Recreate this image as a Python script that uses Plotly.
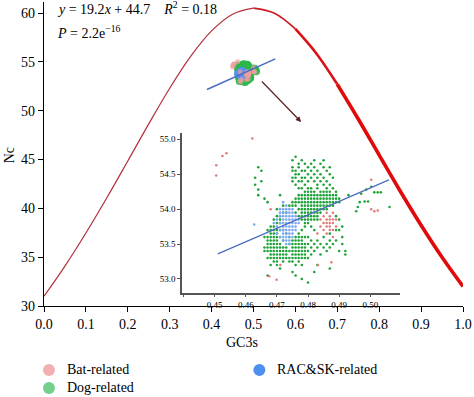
import plotly.graph_objects as go

# ---------------- data ----------------
x_ticks = [0.0, 0.1, 0.2, 0.3, 0.4, 0.5, 0.6, 0.7, 0.8, 0.9, 1.0]
y_ticks = [30, 35, 40, 45, 50, 55, 60]
inset_x_ticks = [0.44, 0.45, 0.46, 0.47, 0.48, 0.49, 0.50, 0.51]
inset_x_text = [" ", "0.45", "0.46", "0.47", "0.48", "0.49", "0.50", " "]
inset_y_ticks = [53.0, 53.5, 54.0, 54.5, 55.0]

# expected Nc curve
curve_s = [0.00, 0.05, 0.10, 0.15, 0.20, 0.25, 0.30, 0.35, 0.40, 0.45, 0.50,
           0.55, 0.60, 0.65, 0.70, 0.75, 0.80, 0.85, 0.90, 0.95, 1.00]
curve_nc = [31.0, 34.09, 37.47, 41.08, 44.85, 48.65, 52.3, 55.56, 58.17, 59.88, 60.5,
            59.98, 58.37, 55.86, 52.7, 49.15, 45.45, 41.78, 38.27, 34.99, 32.0]

# Dog-related genes (columns of GC3s with their Nc values)
dog_col_x = [0.463, 0.464, 0.465, 0.466, 0.467, 0.468, 0.469, 0.470, 0.471, 0.472,
             0.473, 0.474, 0.475, 0.476, 0.477, 0.478, 0.479, 0.480, 0.481, 0.482,
             0.483, 0.484, 0.485, 0.486, 0.487, 0.488, 0.489, 0.490, 0.491, 0.492]
dog_col_y = [
    [54.45, 54.35],
    [54.60, 54.28, 54.20],
    [54.55, 54.40],
    [54.15, 53.60, 53.45, 53.40],
    [54.10, 53.70, 53.60, 53.55, 53.50, 53.45, 53.40, 53.30, 53.05],
    [53.75, 53.70, 53.65, 53.60, 53.55, 53.50, 53.45, 53.40, 53.35, 53.30, 53.20],
    [53.85, 53.75, 53.70, 53.65, 53.60, 53.55, 53.50, 53.45, 53.40, 53.35, 53.30, 53.25],
    [54.00, 53.90, 53.80, 53.70, 53.65, 53.60, 53.55, 53.50, 53.45, 53.40, 53.35, 53.30, 53.25, 53.20],
    [54.20, 53.90, 53.85, 53.80, 53.70, 53.60, 53.50, 53.45, 53.40, 53.35, 53.30, 53.15],
    [54.05, 53.95, 53.70, 53.55, 53.45, 53.40, 53.35, 53.30, 53.25],
    [53.95, 53.65, 53.45, 53.40, 53.35, 53.30],
    [54.05, 53.60, 53.50, 53.40, 53.30, 53.25],
    [54.70, 54.60, 54.55, 54.45, 54.40, 54.10, 54.05, 53.55, 53.50, 53.45, 53.40, 53.35, 53.30, 53.25, 53.10],
    [54.75, 54.55, 54.50, 54.45, 54.35, 54.15, 54.10, 54.05, 53.95, 53.60, 53.55, 53.50, 53.45, 53.40, 53.35, 53.30, 53.20, 53.05],
    [54.65, 54.60, 54.50, 54.40, 54.30, 54.20, 54.15, 54.10, 54.00, 53.90, 53.65, 53.60, 53.55, 53.50, 53.45, 53.40, 53.35, 53.30, 53.25],
    [54.70, 54.55, 54.45, 54.40, 54.30, 54.20, 54.15, 54.10, 54.05, 54.00, 53.95, 53.90, 53.85, 53.70, 53.60, 53.55, 53.50, 53.45, 53.40, 53.35, 53.30, 53.20, 53.00],
    [54.65, 54.55, 54.45, 54.35, 54.25, 54.20, 54.15, 54.10, 54.05, 54.00, 53.95, 53.90, 53.85, 53.80, 53.75, 53.60, 53.50, 53.45, 53.40, 53.35, 53.30],
    [54.60, 54.50, 54.40, 54.30, 54.25, 54.20, 54.15, 54.10, 54.05, 54.00, 53.95, 53.90, 53.85, 53.80, 53.60, 53.50, 53.40, 53.30, 52.95],
    [54.65, 54.55, 54.45, 54.30, 54.25, 54.20, 54.15, 54.10, 54.05, 54.00, 53.95, 53.90, 53.85, 53.75, 53.55, 53.45, 53.35],
    [54.70, 54.60, 54.50, 54.40, 54.25, 54.20, 54.15, 54.10, 54.05, 54.00, 53.95, 53.90, 53.85, 53.70, 53.50, 53.40, 53.10],
    [54.55, 54.45, 54.35, 54.30, 54.20, 54.15, 54.10, 54.05, 54.00, 53.95, 53.90, 53.85, 53.55, 53.45, 53.20],
    [54.65, 54.50, 54.40, 54.25, 54.20, 54.15, 54.10, 54.05, 54.00, 53.95, 53.50, 53.35],
    [54.70, 54.60, 54.45, 54.35, 54.25, 54.20, 54.15, 54.10, 54.05, 54.00, 53.60, 53.45],
    [54.55, 54.40, 54.30, 54.25, 54.20, 54.15, 54.10, 54.05, 54.00, 53.50, 53.40],
    [54.60, 54.50, 54.35, 54.25, 54.20, 54.15, 54.10, 54.05, 53.65, 53.55, 53.45, 53.15],
    [54.45, 54.30, 54.20, 54.15, 54.10, 54.05, 53.50],
    [54.25, 54.20, 54.15, 54.10, 53.90, 53.70, 53.55],
    [54.15, 54.10, 53.85, 53.70, 53.40],
    [53.75, 53.60, 53.50],
    [53.40, 53.35],
]
dog_extra_x = [0.4960, 0.4966, 0.4971, 0.4982, 0.4987, 0.4993, 0.5003, 0.5013,
               0.5024, 0.5034, 0.5062, 0.4955, 0.4930]
dog_extra_y = [54.03, 54.10, 54.22, 54.11, 54.28, 54.11, 54.32, 54.24,
               54.24, 54.24, 54.03, 53.97, 54.20]

# RAC&SK-related genes
rac_col_x = [0.4627, 0.469, 0.470, 0.471, 0.472, 0.473, 0.474, 0.475, 0.476, 0.477]
rac_col_y = [
    [53.78],
    [53.80],
    [53.85, 53.75, 53.65],
    [54.00, 53.95, 53.90, 53.80, 53.70, 53.60],
    [54.10, 54.00, 53.95, 53.90, 53.85, 53.80, 53.75, 53.70, 53.65, 53.60, 53.55],
    [54.05, 54.00, 53.95, 53.90, 53.85, 53.80, 53.75, 53.70, 53.65, 53.60, 53.55, 53.50],
    [54.00, 53.95, 53.90, 53.85, 53.80, 53.75, 53.70, 53.65, 53.60, 53.55, 53.50],
    [54.00, 53.95, 53.90, 53.85, 53.80, 53.75, 53.70, 53.65, 53.60],
    [53.90, 53.85, 53.80, 53.75, 53.70],
    [53.85, 53.80],
]

# Bat-related genes
bat_col_x = [0.483, 0.484, 0.485, 0.486, 0.487, 0.488, 0.489]
bat_col_y = [
    [53.65],
    [53.85, 53.75],
    [53.90, 53.80, 53.70],
    [53.95, 53.85, 53.80, 53.75, 53.65],
    [53.90, 53.85, 53.80, 53.75, 53.70],
    [53.95, 53.85, 53.80, 53.70, 53.60],
    [53.85, 53.75],
]
bat_extra_x = [0.4505, 0.4505, 0.4525, 0.4538, 0.4621, 0.4680, 0.4711, 0.4675,
               0.4699, 0.4832, 0.4875, 0.5003, 0.5003, 0.5013, 0.5024]
bat_extra_y = [54.63, 54.48, 54.76, 54.80, 55.01, 54.00, 53.20, 53.04,
               52.99, 53.20, 53.24, 54.42, 54.00, 53.97, 53.98]

# regression line y = 19.2x + 44.7 (end points)
reg_main_x = [0.389, 0.552]
reg_main_y = [52.17, 55.30]
reg_inset_x = [0.451, 0.506]
reg_inset_y = [53.36, 54.42]


def expand(cx, cy):
    xs, ys = [], []
    for x, col in zip(cx, cy):
        for y in col:
            xs.append(x)
            ys.append(y)
    return xs, ys


dog_x, dog_y = expand(dog_col_x, dog_col_y)
dog_x += dog_extra_x
dog_y += dog_extra_y
rac_x, rac_y = expand(rac_col_x, rac_col_y)
bat_x, bat_y = expand(bat_col_x, bat_col_y)
bat_x += bat_extra_x
bat_y += bat_extra_y

FONT = "Liberation Serif, Times New Roman, serif"
fig = go.Figure()

# expected curve, drawn in pieces of growing width
pieces = [(0, 10, 1.2, "#b3303a"), (10, 12, 1.7, "#cc1c26"),
          (12, 14, 2.6, "#dc1016"), (14, 20, 3.6, "#e00a0a")]
for a, b, w, c in pieces:
    fig.add_trace(go.Scatter(x=curve_s[a:b + 1], y=curve_nc[a:b + 1], mode="lines",
                             line=dict(color=c, width=w, shape="spline"),
                             showlegend=False, hoverinfo="skip"))

# main panel cluster
fig.add_trace(go.Scatter(x=dog_x, y=dog_y, mode="markers", showlegend=False,
                         marker=dict(size=8, color="#2db84b", opacity=0.9)))
fig.add_trace(go.Scatter(x=rac_x, y=rac_y, mode="markers", showlegend=False,
                         marker=dict(size=8, color="#5b8ff0", opacity=0.9)))
fig.add_trace(go.Scatter(x=bat_x, y=bat_y, mode="markers", showlegend=False,
                         marker=dict(size=5, color="#e9a0a0", opacity=0.7)))
fig.add_trace(go.Scatter(x=reg_main_x, y=reg_main_y, mode="lines", showlegend=False,
                         line=dict(color="#4a6cc0", width=1.5)))

# inset panel
fig.add_trace(go.Scatter(x=dog_x, y=dog_y, mode="markers", showlegend=False,
                         xaxis="x2", yaxis="y2",
                         marker=dict(size=2.6, color="#1fa33a")))
fig.add_trace(go.Scatter(x=rac_x, y=rac_y, mode="markers", showlegend=False,
                         xaxis="x2", yaxis="y2",
                         marker=dict(size=2.6, color="#7aa8f2")))
fig.add_trace(go.Scatter(x=bat_x, y=bat_y, mode="markers", showlegend=False,
                         xaxis="x2", yaxis="y2",
                         marker=dict(size=2.5, color="#e07a7a")))
fig.add_trace(go.Scatter(x=reg_inset_x, y=reg_inset_y, mode="lines", showlegend=False,
                         xaxis="x2", yaxis="y2",
                         line=dict(color="#4a6cc0", width=1.3)))

axis_common = dict(showgrid=False, zeroline=False, showline=True, ticks="outside")

fig.update_layout(
    width=474, height=397,
    margin=dict(l=44, r=8, t=2, b=91),
    paper_bgcolor="white", plot_bgcolor="rgba(0,0,0,0)",
    font=dict(family=FONT, size=14, color="black"),
    xaxis=dict(**axis_common, range=[0, 1], tickvals=x_ticks, tickformat=".1f",
               linecolor="black", linewidth=1.3, ticklen=5, tickcolor="black",
               ticklabeloverflow="allow",
               tickfont=dict(family=FONT, size=14)),
    yaxis=dict(**axis_common, range=[30, 61.13], tickvals=y_ticks,
               linecolor="black", linewidth=1.3, ticklen=5, tickcolor="black",
               tickfont=dict(family=FONT, size=14)),
    xaxis2=dict(**axis_common, domain=[0.3294, 0.8507], anchor="y2",
                range=[0.4395, 0.5097], tickvals=inset_x_ticks, ticktext=inset_x_text,
                linecolor="#555", linewidth=1.5, ticklen=3, tickcolor="#555",
                tickfont=dict(family=FONT, size=9)),
    yaxis2=dict(**axis_common, domain=[0.0438, 0.570], anchor="x2",
                range=[52.804, 55.094], tickvals=inset_y_ticks, tickformat=".1f",
                linecolor="#555", linewidth=1.5, ticklen=3, tickcolor="#555",
                tickfont=dict(family=FONT, size=9)),
)

annotations = [
    dict(x=0.026, y=0.980, xref="paper", yref="paper", xanchor="left", yanchor="middle",
         showarrow=False, font=dict(family=FONT, size=14),
         text="<i>y</i> = 19.2<i>x</i> + 44.7&nbsp;&nbsp;&nbsp; <i>R</i><sup>2</sup> = 0.18"),
    dict(x=0.026, y=0.901, xref="paper", yref="paper", xanchor="left", yanchor="middle",
         showarrow=False, font=dict(family=FONT, size=14),
         text="<i>P</i> = 2.2e<sup>\u221216</sup>"),
    dict(x=0.4716, y=-0.1217, xref="paper", yref="paper", xanchor="center", yanchor="middle",
         showarrow=False, font=dict(family=FONT, size=14), text="GC3s"),
    dict(x=-0.0829, y=0.4967, xref="paper", yref="paper", xanchor="center", yanchor="middle",
         showarrow=False, font=dict(family=FONT, size=14), text="Nc", textangle=-90),
    dict(x=0.6137, y=48.84, xref="x", yref="y", ax=0.5166, ay=53.14, axref="x", ayref="y",
         showarrow=True, arrowhead=2, arrowsize=0.9, arrowwidth=1.2,
         arrowcolor="#5a1e1e", text=""),
]

legend_items = [("Bat-related", "#f2b0b0", 0.01185, -0.2105),
                ("Dog-related", "#72d08c", 0.01185, -0.2697),
                ("RAC&SK-related", "#4f8ff0", 0.514, -0.2105)]
shapes = []
for label, col, lx, ly in legend_items:
    shapes.append(dict(type="circle", xref="paper", yref="paper",
                       xsizemode="pixel", ysizemode="pixel",
                       xanchor=lx, yanchor=ly, x0=-6, x1=6, y0=-6, y1=6,
                       fillcolor=col, line=dict(width=0)))
    annotations.append(dict(x=lx + 0.038, y=ly, xref="paper", yref="paper",
                            xanchor="left", yanchor="middle", showarrow=False,
                            font=dict(family=FONT, size=14),
                            text=label.replace("&", "&amp;")))

fig.update_layout(annotations=annotations, shapes=shapes)

fig.write_html("out.html", config={"displayModeBar": False},
               post_script="document.body.style.margin='0';document.body.style.padding='0';")
